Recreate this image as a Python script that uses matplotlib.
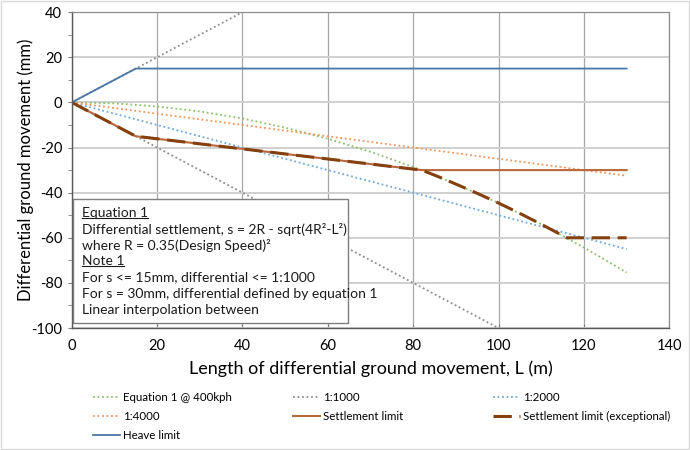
import matplotlib
matplotlib.use("Agg")
import matplotlib.pyplot as plt
from matplotlib.patches import Rectangle

plt.rcParams["font.family"] = ["Lato", "DejaVu Sans"]
plt.rcParams["axes.unicode_minus"] = False

# series
eq1_L = [0, 10, 20, 30, 40, 50, 60, 70, 80, 90, 100, 110, 120, 130]
eq1_s = [0, -0.4, -1.8, -4.0, -7.1, -11.2, -16.1, -21.9, -28.6, -36.2, -44.6, -54.0, -64.3, -75.4]

r1000_L = [140, 0, 140]
r1000_s = [140, 0, -140]

r2000_L = [0, 130]
r2000_s = [0, -65]

r4000_L = [0, 130]
r4000_s = [0, -32.5]

settle_L = [0, 15, 82, 130]
settle_s = [0, -15, -30, -30]

except_L = [0, 15, 82, 86, 90, 95, 100, 105, 110, 116, 130]
except_s = [0, -15, -30, -33.0, -36.2, -40.3, -44.6, -49.2, -54.0, -60, -60]

heave_L = [0, 15, 130]
heave_s = [0, 15, 15]

note_lines = [
    ("Equation 1", True),
    ("Differential settlement, s = 2R - sqrt(4R\u00b2-L\u00b2)", False),
    ("where R = 0.35(Design Speed)\u00b2", False),
    ("Note 1", True),
    ("For s <= 15mm, differential <= 1:1000", False),
    ("For s = 30mm, differential defined by equation 1", False),
    ("Linear interpolation between", False),
]

fig = plt.figure(figsize=(6.9, 4.5), dpi=100)
ax = fig.add_axes([0.104, 0.271, 0.866, 0.702])

ax.plot(eq1_L, eq1_s, color="#8CC068", lw=1.3, ls=(0, (1, 1.5)), label="Equation 1 @ 400kph")
ax.plot(r1000_L, r1000_s, color="#8C8C8C", lw=1.3, ls=(0, (1, 1.5)), label="1:1000")
ax.plot(r2000_L, r2000_s, color="#6FA8DC", lw=1.3, ls=(0, (1, 1.5)), label="1:2000")
ax.plot(r4000_L, r4000_s, color="#F0955A", lw=1.3, ls=(0, (1, 1.5)), label="1:4000")
ax.plot(settle_L, settle_s, color="#B8683A", lw=1.5, label="Settlement limit")
ax.plot(except_L, except_s, color="#84400F", lw=2.2, ls=(0, (6, 2.5)),
        label="Settlement limit (exceptional)")
ax.plot(heave_L, heave_s, color="#4A77A8", lw=1.3, label="Heave limit")

ax.set_xlim(0, 140)
ax.set_ylim(-100, 40)
ax.set_xticks(range(0, 141, 20))
ax.set_yticks(range(-100, 41, 20))
ax.set_yticks(range(-100, 41, 10), minor=True)
ax.tick_params(axis="y", which="both", direction="out", length=3, color="#7F7F7F",
               labelsize=10.5, pad=4)
ax.tick_params(axis="x", which="both", direction="in", length=3, color="#7F7F7F",
               labelsize=10.5, pad=8)
ax.grid(axis="x", color="#A6A6A6", lw=0.9)
ax.grid(axis="y", color="#D0D0D0", lw=1.4)
ax.set_axisbelow(True)
for side in ["top", "right"]:
    ax.spines[side].set_color("#8C8C8C")
    ax.spines[side].set_linewidth(0.9)
for side in ["left", "bottom"]:
    ax.spines[side].set_color("#595959")
    ax.spines[side].set_linewidth(1.0)

ax.set_xlabel("Length of differential ground movement, L (m)", fontsize=13, labelpad=5)
ax.set_ylabel("Differential ground movement (mm)", fontsize=12, labelpad=-2)

# note box
ax.add_patch(Rectangle((0.3, -97.8), 64.4, 55.1, facecolor="white", edgecolor="#7F7F7F",
                       lw=1.0, zorder=5))
texts = []
y0 = -49.0
for i, (line, underline) in enumerate(note_lines):
    t = ax.text(2.3, y0 - i * 7.15, line, fontsize=10, va="center", ha="left", zorder=6,
                color="#1A1A1A")
    texts.append((t, underline))

fig.canvas.draw()
renderer = fig.canvas.get_renderer()
inv = ax.transData.inverted()
for t, underline in texts:
    if not underline:
        continue
    bb = t.get_window_extent(renderer)
    (x0, yb), (x1, _) = inv.transform([(bb.x0, bb.y0), (bb.x1, bb.y1)])
    ax.plot([x0, x1], [yb + 0.4, yb + 0.4], color="#1A1A1A", lw=0.8, zorder=6)

# legend: three columns, filled row by row
h, l = ax.get_legend_handles_labels()
columns = [[0, 3, 6], [1, 4], [2, 5]]
col_x = [88 / 690, 288 / 690, 488 / 690]
for idx, cx in zip(columns, col_x):
    fig.legend([h[i] for i in idx], [l[i] for i in idx], loc="upper left",
               bbox_to_anchor=(cx, 1 - 387 / 450), frameon=False, fontsize=8.3,
               borderaxespad=0, handlelength=2.4, handletextpad=0.25, labelspacing=0.72)

fig.patches.append(Rectangle((0.002, 0.002), 0.996, 0.996, transform=fig.transFigure,
                             fill=False, edgecolor="#D9D9D9", lw=1.0))

fig.savefig("out.png", dpi=100)
